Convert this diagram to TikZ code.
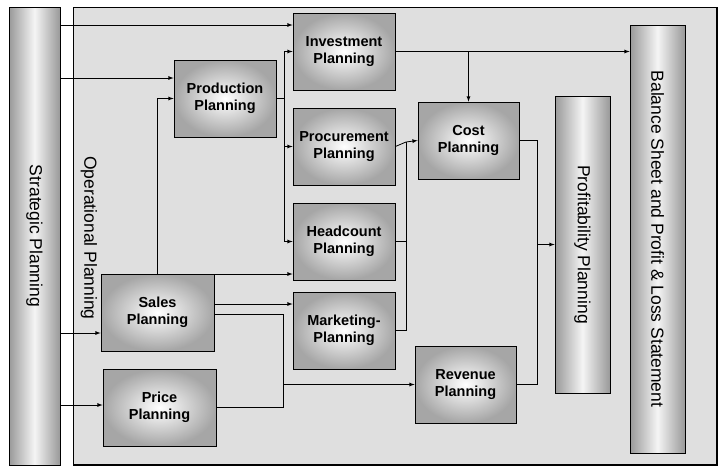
\documentclass[tikz,border=0pt]{standalone}
\usepackage{fontspec}
\setmainfont{Liberation Sans}
\usetikzlibrary{positioning}

\begin{document}
\begin{tikzpicture}[x=1pt,y=-1pt,>=latex,
        box/.style={draw=black,thick,inner color=white,outer color=gray!70,
            minimum width=102pt,minimum height=77pt,align=center,
            font=\fontsize{14.5}{17}\selectfont\bfseries},
        bar/.style={draw=black,thick,left color=gray!80,right color=gray!80,middle color=gray!8},
        vlabel/.style={rotate=-90,font=\fontsize{17.5}{20}\selectfont},
        link/.style={thick,->}]
        \useasboundingbox (0,0) rectangle (722,467);
        \fill[white] (0,0) rectangle (722,467);
        \draw[thick,fill=gray!25] (73,7) rectangle (717,465);
        \draw[line width=2pt] (73,465) -- (717,465) -- (717,7);
        \node[bar,minimum width=51pt,minimum height=458pt] (strat) at (34.5,236) {};
        \node[vlabel] at (strat) {Strategic Planning};
        \node[vlabel] (oper) at (89,238) {Operational Planning};
        \node[box] (invest) at (344,51.5) {Investment\\Planning};
        \node[box] (prod) at (225,98.5) {Production\\Planning};
        \node[box] (procure) at (344,146.5) {Procurement\\Planning};
        \node[box] (head) at (344,241.5) {Headcount\\Planning};
        \node[box] (market) at (344,330.5) {Marketing-\\Planning};
        \node[box,minimum width=113pt] (sales) at (157.5,312.5) {Sales\\Planning};
        \node[box,minimum width=113pt] (price) at (159.5,407.5) {Price\\Planning};
        \node[box,minimum width=101pt] (cost) at (468.5,140.5) {Cost\\Planning};
        \node[box,minimum width=101pt] (revenue) at (465.5,384.5) {Revenue\\Planning};
        \node[bar,minimum width=55pt,minimum height=297pt] (profit) at (582.5,244.5) {};
        \node[vlabel] at (profit) {Profitability Planning};
        \node[bar,minimum width=55pt,minimum height=428pt] (balance) at (657.5,239) {};
        \node[vlabel] at (balance) {Balance Sheet and Profit \& Loss Statement};
        % strategic inputs
        \draw[link] (strat.east |- 0,25) -- (invest.west |- 0,25);
        \draw[link] (strat.east |- 0,78) -- (prod.west |- 0,78);
        \draw[link] (strat.east |- 0,333) -- (sales.west |- 0,333);
        \draw[link] (strat.east |- 0,405) -- (price.west |- 0,405);
        % operational flow
        \draw[link] (sales.north) |- (prod.west);
        \coordinate (split) at (284,98.5);
        \draw (prod.east) -- (split);
        \draw[link] (split) |- (invest.west);
        \draw[link] (split) |- (procure.west);
        \draw[link] (split) |- (head.west);
        \draw[link] (199,274) -- (head.west |- 0,274);
        \draw[link] (sales.east |- 0,304) -- (market.west |- 0,304);
        \coordinate (join) at (283,384.5);
        \draw (sales.east |- 0,314) -| (join);
        \draw (price.east) -| (join);
        \draw[link] (join) -- (revenue.west);
        \draw[link] (invest.east) -- (balance.west |- invest.east);
        \draw[link] (cost.north |- invest.east) -- (cost.north);
        \coordinate (gather) at (406,142);
        \draw[link] (procure.east) -- (gather) -- (cost.west);
        \draw (head.east) -| (gather);
        \draw (market.east) -| (gather);
        \coordinate (merge) at (537,244.5);
        \draw (cost.east) -| (merge);
        \draw (revenue.east) -| (merge);
        \draw[link] (merge) -- (profit.west);
    \end{tikzpicture}
\end{document}
